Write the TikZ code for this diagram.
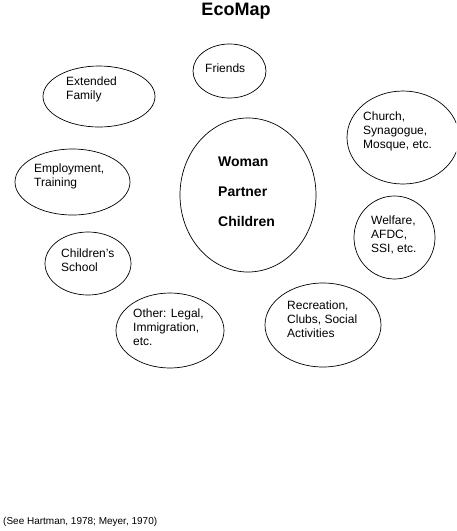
\documentclass[tikz,border=0pt]{standalone}
\usepackage{fontspec}
\setmainfont{Liberation Sans}
\usetikzlibrary{shapes.geometric}
\begin{document}
\begin{tikzpicture}[x=1pt,y=-1pt,
  eco/.style={draw=black, line width=0.7pt, ellipse, inner sep=0pt},
  lbl/.style={anchor=west, inner sep=0pt, align=left, font=\fontsize{12}{14}\selectfont},
  core/.style={anchor=west, inner sep=0pt, align=left, font=\fontsize{14}{30}\selectfont\bfseries}]
\useasboundingbox (0,0) rectangle (456,531);
\clip (0,0) rectangle (456,531);
\node[font=\fontsize{18}{20}\selectfont\bfseries, inner sep=0pt] (title) at (236,11) {EcoMap};
\node[eco, minimum width=73pt, minimum height=54pt] (friends) at (229.5,71) {};
\node[lbl] (friendsT) at (205,68) {Friends};
\node[eco, minimum width=112pt, minimum height=61pt] (family) at (99,96.5) {};
\node[lbl] (familyT) at (66,89.5) {Extended\\Family};
\node[eco, minimum width=112pt, minimum height=93pt] (church) at (403,137.5) {};
\node[lbl] (churchT) at (363,131) {Church,\\Synagogue,\\Mosque, etc.};
\node[eco, minimum width=136pt, minimum height=154pt] (core) at (248,195) {};
\node[core] (coreT) at (218,192) {Woman\\Partner\\Children};
\node[eco, minimum width=115pt, minimum height=66pt] (employ) at (72.5,182) {};
\node[lbl] (employT) at (34,176.5) {Employment,\\Training};
\node[eco, minimum width=81pt, minimum height=83pt] (welfare) at (394.5,237.5) {};
\node[lbl] (welfareT) at (371,235) {Welfare,\\AFDC,\\SSI, etc.};
\node[eco, minimum width=86pt, minimum height=63pt] (school) at (88,263.5) {};
\node[lbl] (schoolT) at (61,260) {Children's\\School};
\node[eco, minimum width=108pt, minimum height=75pt] (other) at (170,330.5) {};
\node[lbl] (otherT) at (133,327.5) {Other: Legal,\\Immigration,\\etc.};
\node[eco, minimum width=116pt, minimum height=84pt] (recre) at (323,325) {};
\node[lbl] (recreT) at (287,319) {Recreation,\\Clubs, Social\\Activities};
\node[anchor=west, inner sep=0pt, font=\fontsize{10}{12}\selectfont] (foot) at (3,522) {(See Hartman, 1978; Meyer, 1970)};
\end{tikzpicture}
\end{document}
